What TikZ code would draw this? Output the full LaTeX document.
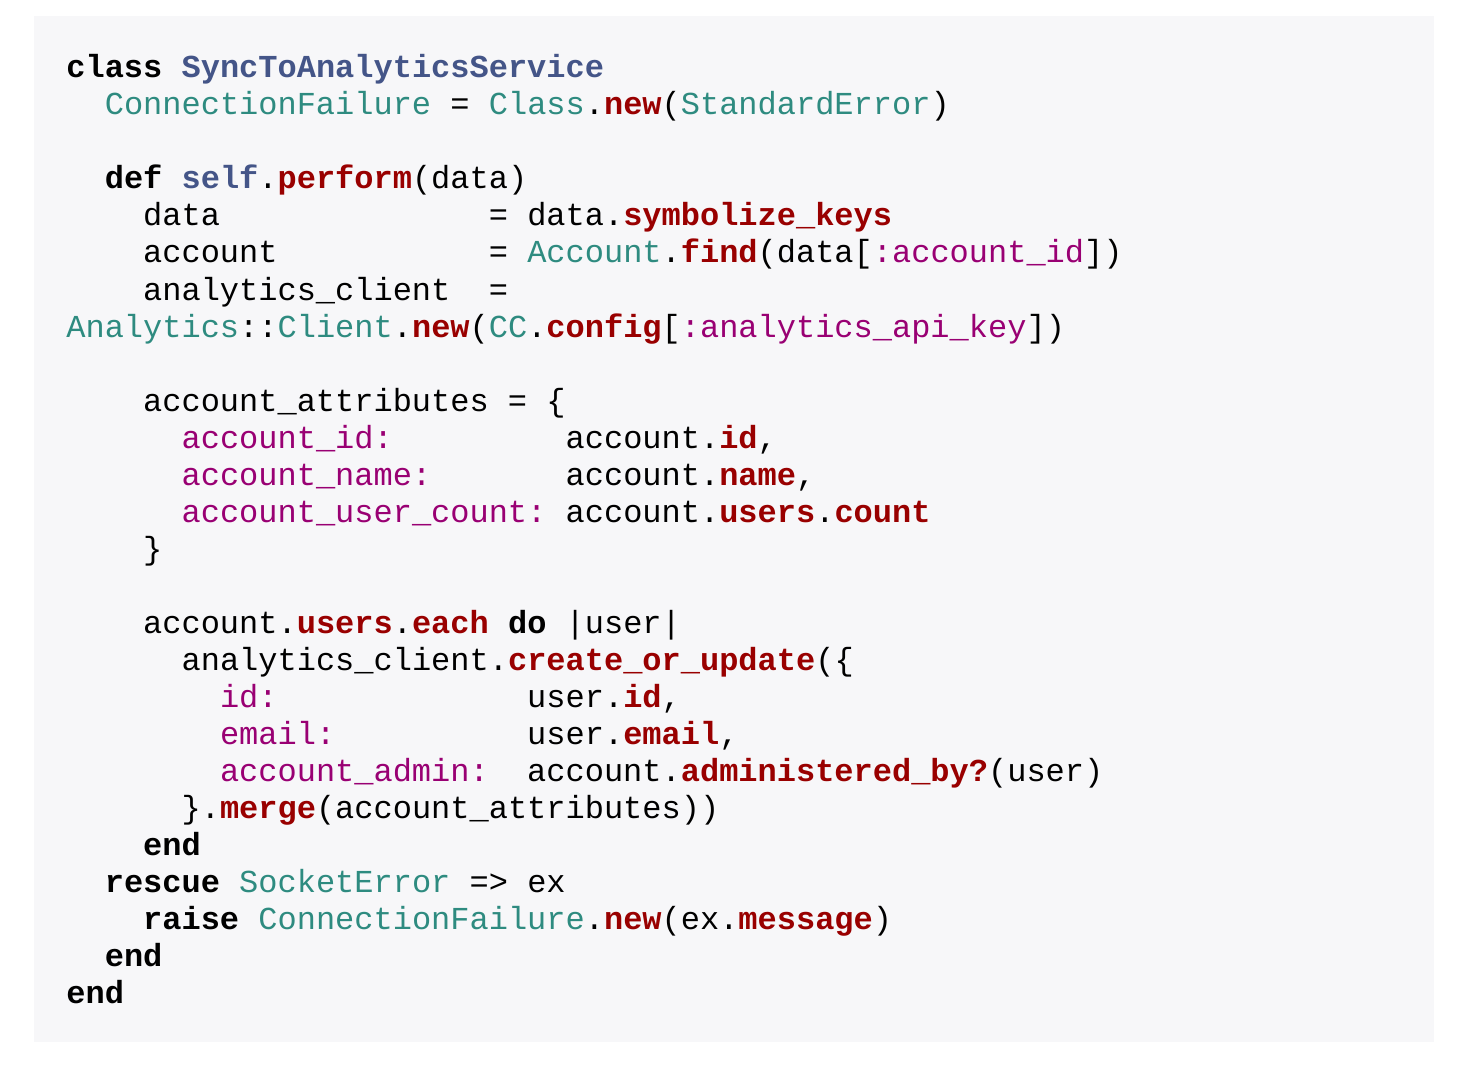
\documentclass[tikz,border=0pt]{standalone}
\usepackage{fontspec}
\setmonofont{Liberation Mono}
\definecolor{bgc}{RGB}{247,247,249}
\definecolor{clsc}{RGB}{68,85,136}
\definecolor{constc}{RGB}{46,139,128}
\definecolor{methc}{RGB}{153,0,0}
\definecolor{symc}{RGB}{153,0,115}
\newcommand{\kw}[1]{\textbf{#1}}
\newcommand{\cls}[1]{\textcolor{clsc}{\textbf{#1}}}
\newcommand{\cn}[1]{\textcolor{constc}{#1}}
\newcommand{\mt}[1]{\textcolor{methc}{\textbf{#1}}}
\newcommand{\sy}[1]{\textcolor{symc}{#1}}
\tikzset{
	codeline/.style={
		anchor=base west, inner sep=0pt, font=\ttfamily\fontsize{16pt}{18pt}\selectfont
	}
}
\begin{document}
\begin{tikzpicture}[x=0.5pt,y=-0.5pt]
\useasboundingbox (0,0) rectangle (1458,1070);
\fill[bgc] (34,16) rectangle (1434,1042);
% rows are 37px apart, columns 19.2px
\node(l1)[codeline] at (66,78) {\kw{class} \cls{SyncToAnalyticsService}};
\node(l2)[codeline] at (104.4,115) {\cn{ConnectionFailure} = \cn{Class}.\mt{new}(\cn{StandardError})};
\node(l3)[codeline] at (104.4,189) {\kw{def} \cls{self}.\mt{perform}(data)};
\node(l4)[codeline] at (142.8,226) {data~~~~~~~~~~~~~~= data.\mt{symbolize\_keys}};
\node(l5)[codeline] at (142.8,263) {account~~~~~~~~~~~= \cn{Account}.\mt{find}(data[\sy{:account\_id}])};
\node(l6)[codeline] at (142.8,300) {analytics\_client~~=};
\node(l7)[codeline] at (66,337) {\cn{Analytics}::\cn{Client}.\mt{new}(\cn{CC}.\mt{config}[\sy{:analytics\_api\_key}])};
\node(l8)[codeline] at (142.8,411) {account\_attributes = \{};
\node(l9)[codeline] at (181.2,448) {\sy{account\_id:}~~~~~~~~~account.\mt{id},};
\node(l10)[codeline] at (181.2,485) {\sy{account\_name:}~~~~~~~account.\mt{name},};
\node(l11)[codeline] at (181.2,522) {\sy{account\_user\_count:}~account.\mt{users}.\mt{count}};
\node(l12)[codeline] at (142.8,559) {\}};
\node(l13)[codeline] at (142.8,633) {account.\mt{users}.\mt{each} \kw{do} |user|};
\node(l14)[codeline] at (181.2,670) {analytics\_client.\mt{create\_or\_update}(\{};
\node(l15)[codeline] at (219.6,707) {\sy{id:}~~~~~~~~~~~~~user.\mt{id},};
\node(l16)[codeline] at (219.6,744) {\sy{email:}~~~~~~~~~~user.\mt{email},};
\node(l17)[codeline] at (219.6,781) {\sy{account\_admin:}~~account.\mt{administered\_by?}(user)};
\node(l18)[codeline] at (181.2,818) {\}.\mt{merge}(account\_attributes))};
\node(l19)[codeline] at (142.8,855) {\kw{end}};
\node(l20)[codeline] at (104.4,892) {\kw{rescue} \cn{SocketError} => ex};
\node(l21)[codeline] at (142.8,929) {\kw{raise} \cn{ConnectionFailure}.\mt{new}(ex.\mt{message})};
\node(l22)[codeline] at (104.4,966) {\kw{end}};
\node(l23)[codeline] at (66,1003) {\kw{end}};
\end{tikzpicture}
\end{document}
